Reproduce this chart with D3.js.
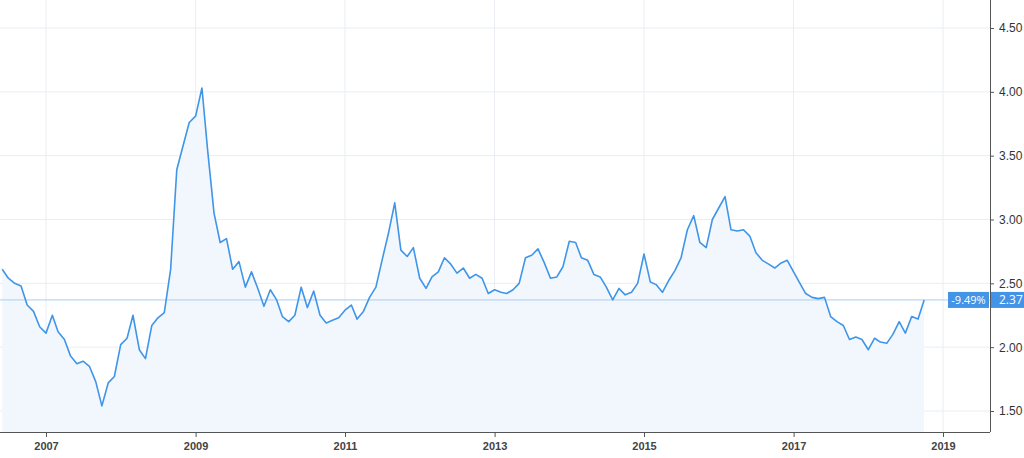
<!DOCTYPE html>
<html>
<head>
<meta charset="utf-8">
<script src="https://cdn.jsdelivr.net/npm/d3@7"></script>
<style>
  body { margin: 0; background: #fff; }
  svg { font-family: "Open Sans", "DejaVu Sans", sans-serif; }
</style>
</head>
<body>
<svg id="vis" width="1024" height="458"></svg>
<script>
// monthly values, starting June 2006
const startDate = new Date(2006, 5, 1);
const values = [
  2.61, 2.54, 2.50, 2.48, 2.33, 2.28, 2.16, 2.11, 2.25, 2.12,
  2.06, 1.93, 1.87, 1.89, 1.85, 1.73, 1.54, 1.72, 1.77, 2.02,
  2.07, 2.25, 1.98, 1.91, 2.17, 2.23, 2.27, 2.61, 3.39, 3.58,
  3.76, 3.81, 4.03, 3.54, 3.05, 2.82, 2.85, 2.61, 2.67, 2.47,
  2.59, 2.46, 2.32, 2.45, 2.37, 2.24, 2.20, 2.25, 2.47, 2.31,
  2.44, 2.25, 2.19, 2.21, 2.23, 2.29, 2.33, 2.22, 2.28, 2.39,
  2.47, 2.68, 2.89, 3.13,
  2.76, 2.71, 2.78, 2.54, 2.46, 2.55, 2.59, 2.70, 2.65, 2.58,
  2.62, 2.54, 2.57, 2.54, 2.42, 2.45, 2.43, 2.42, 2.45, 2.50,
  2.70, 2.72, 2.77, 2.66, 2.54, 2.55, 2.63, 2.83, 2.82, 2.70,
  2.68, 2.57, 2.55, 2.47, 2.37, 2.46, 2.41, 2.43, 2.50, 2.73,
  2.51, 2.49, 2.43, 2.52, 2.60, 2.70, 2.92, 3.03, 2.82, 2.78,
  3.00, 3.09, 3.18, 2.92, 2.91, 2.92, 2.87, 2.74, 2.68, 2.65,
  2.62, 2.66, 2.68, 2.59, 2.50, 2.42, 2.39, 2.38, 2.39, 2.24,
  2.20, 2.17, 2.06, 2.08, 2.06, 1.98, 2.07, 2.04, 2.03, 2.10,
  2.20, 2.11, 2.24, 2.22, 2.37
];
const yTicks = [1.5, 2.0, 2.5, 3.0, 3.5, 4.0, 4.5];
const xTickYears = [2007, 2009, 2011, 2013, 2015, 2017, 2019];
const lastValue = 2.37;
const changeLabel = "-9.49%";

const data = values.map((v, i) => ({ date: d3.timeMonth.offset(startDate, i), value: v }));

const plotRight = 990, plotBottom = 432;
const svg = d3.select("#vis");

const x = d3.scaleTime()
  .domain([new Date(2007, 0, 1), new Date(2019, 0, 1)])
  .range([46, 943]);
const y = d3.scaleLinear().domain([1.5, 4.5]).range([411, 28]);

// grid
const grid = svg.append("g");
grid.selectAll(".hg").data(yTicks).join("line")
  .attr("x1", 0).attr("x2", plotRight)
  .attr("y1", d => y(d)).attr("y2", d => y(d))
  .attr("stroke", "#e9eef3").attr("stroke-width", 1);
grid.selectAll(".vg").data(xTickYears).join("line")
  .attr("x1", d => x(new Date(d, 0, 1))).attr("x2", d => x(new Date(d, 0, 1)))
  .attr("y1", 0).attr("y2", plotBottom)
  .attr("stroke", "#e9eef3").attr("stroke-width", 1);

// area + line
svg.append("path").datum(data)
  .attr("fill", "#f2f7fd")
  .attr("d", d3.area().x(d => x(d.date)).y0(plotBottom).y1(d => y(d.value)));

svg.append("line")
  .attr("x1", 0).attr("x2", plotRight)
  .attr("y1", y(lastValue)).attr("y2", y(lastValue))
  .attr("stroke", "#a9cdf3").attr("stroke-width", 1);

svg.append("path").datum(data)
  .attr("fill", "none").attr("stroke", "#3f95e8").attr("stroke-width", 1.6)
  .attr("stroke-linejoin", "round")
  .attr("d", d3.line().x(d => x(d.date)).y(d => y(d.value)));

// right axis
const yAxis = svg.append("g").attr("transform", `translate(${plotRight},0)`)
  .call(d3.axisRight(y).tickValues(yTicks).tickFormat(d3.format(".2f")).tickSize(4).tickPadding(5));
yAxis.select(".domain").attr("d", `M0.5,0V${plotBottom}`).attr("stroke", "#555");
yAxis.selectAll(".tick line").attr("stroke", "#555");
yAxis.selectAll("text").attr("fill", "#333").style("font-size", "12px");

// bottom axis
const xAxis = svg.append("g").attr("transform", `translate(0,${plotBottom})`)
  .call(d3.axisBottom(x).tickValues(xTickYears.map(d => new Date(d, 0, 1)))
    .tickFormat(d3.timeFormat("%Y")).tickSize(5).tickPadding(5));
xAxis.select(".domain").attr("d", `M0,0.5H${plotRight}`).attr("stroke", "#555");
xAxis.selectAll(".tick line").attr("stroke", "#555");
xAxis.selectAll("text").attr("fill", "#444").style("font-size", "11px").style("font-weight", "bold");

// last value badges
const by = y(lastValue);
svg.append("rect").attr("x", 948).attr("y", by - 8).attr("width", 41).attr("height", 16).attr("fill", "#4393e6");
svg.append("text").attr("x", 968.5).attr("y", by + 4).attr("text-anchor", "middle")
  .attr("fill", "#fff").style("font-size", "11px").text(changeLabel);
svg.append("rect").attr("x", 991).attr("y", by - 8).attr("width", 33).attr("height", 16).attr("fill", "#4393e6");
svg.append("text").attr("x", 999).attr("y", by + 4.5)
  .attr("fill", "#fff").style("font-size", "12px").text(d3.format(".2f")(lastValue));
</script>
</body>
</html>
